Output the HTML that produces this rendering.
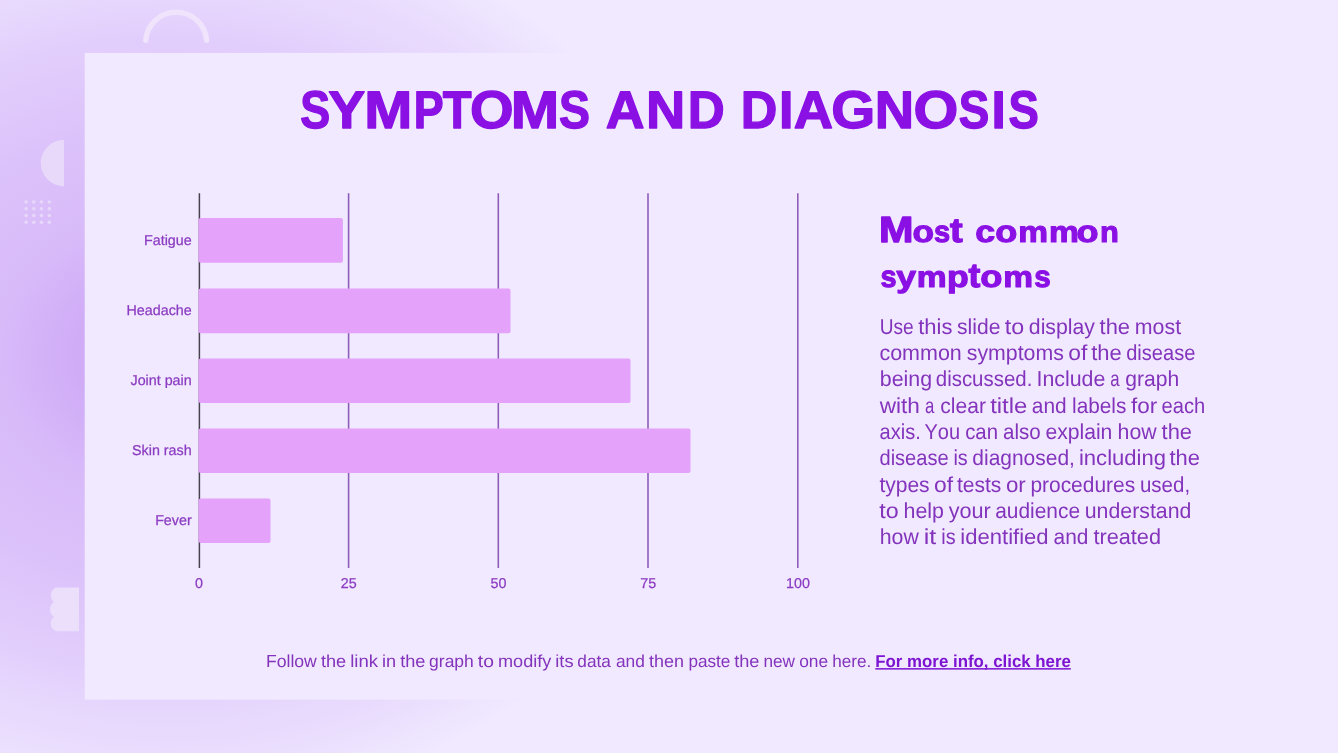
<!DOCTYPE html>
<html>
<head>
<meta charset="utf-8">
<title>Symptoms and Diagnosis</title>
<style>
html,body{margin:0;padding:0;}
body{width:1338px;height:753px;overflow:hidden;background:#f0e9ff;font-family:"Liberation Sans",sans-serif;}
svg{display:block;position:absolute;left:0;top:0;will-change:transform;}
text{font-family:"Liberation Sans",sans-serif;text-rendering:geometricPrecision;}
</style>
</head>
<body>
<svg width="1338" height="753" viewBox="0 0 1338 753">
  <defs>
    <radialGradient id="bg" gradientUnits="userSpaceOnUse" cx="0" cy="0" r="456" gradientTransform="translate(165 355) scale(1.2 1)">
      <stop offset="0.000" stop-color="#cea8f7"/>
      <stop offset="0.164" stop-color="#d0acf7"/>
      <stop offset="0.307" stop-color="#d8baf9"/>
      <stop offset="0.504" stop-color="#dcc2fa"/>
      <stop offset="0.697" stop-color="#e2cefc"/>
      <stop offset="0.776" stop-color="#e6d6fd"/>
      <stop offset="0.855" stop-color="#e9dbfd"/>
      <stop offset="0.925" stop-color="#ece2fe"/>
      <stop offset="1.000" stop-color="#f0e9ff"/>
    </radialGradient>
  </defs>
  <rect x="0" y="0" width="1338" height="753" fill="#f0e9ff"/>
  <rect x="0" y="0" width="700" height="753" fill="url(#bg)"/>
  <!-- decorations -->
  <path d="M145.79 40.3 A30.5 30.5 0 0 1 206.61 40.3" fill="none" stroke="#f0e4fd" stroke-width="5.4" stroke-linecap="round"/>
  <path d="M64 139.8 A23.3 23.3 0 0 0 64 186.4 Z" fill="#e8d9fa"/>
  <g fill="#e7d8fa">
    <circle cx="26.1" cy="202" r="1.75"/><circle cx="33.8" cy="202" r="1.75"/><circle cx="41.5" cy="202" r="1.75"/><circle cx="49.3" cy="202" r="1.75"/>
    <circle cx="26.1" cy="208.8" r="1.75"/><circle cx="33.8" cy="208.8" r="1.75"/><circle cx="41.5" cy="208.8" r="1.75"/><circle cx="49.3" cy="208.8" r="1.75"/>
    <circle cx="26.1" cy="215.5" r="1.75"/><circle cx="33.8" cy="215.5" r="1.75"/><circle cx="41.5" cy="215.5" r="1.75"/><circle cx="49.3" cy="215.5" r="1.75"/>
    <circle cx="26.1" cy="222.3" r="1.75"/><circle cx="33.8" cy="222.3" r="1.75"/><circle cx="41.5" cy="222.3" r="1.75"/><circle cx="49.3" cy="222.3" r="1.75"/>
  </g>
  <path d="M79 587.5 H56 A8.6 8.6 0 0 0 54 602.1 A8.6 8.6 0 0 0 54 616.7 A8.6 8.6 0 0 0 56 631.3 H79 Z" fill="#ecdffb"/>
  <!-- panel -->
  <rect x="84.7" y="52.9" width="1254" height="646.8" fill="#f0e9ff"/>

  <!-- title -->
  <g font-weight="700" font-size="52.0" fill="#8a10e4" stroke="#8a10e4" stroke-width="1.3" stroke-linejoin="round">
    <text transform="translate(300.27 127.80) scale(0.8628 1.0201)">S</text>
    <text transform="translate(328.35 127.80) scale(1.0655 1.0130)">Y</text>
    <text transform="translate(364.36 127.80) scale(1.1099 1.0130)">M</text>
    <text transform="translate(413.66 127.80) scale(0.8624 1.0130)">P</text>
    <text transform="translate(442.66 127.80) scale(0.9085 1.0130)">T</text>
    <text transform="translate(470.00 127.80) scale(1.0793 1.0201)">O</text>
    <text transform="translate(510.84 127.80) scale(1.1179 1.0130)">M</text>
    <text transform="translate(559.04 127.80) scale(0.8936 1.0201)">S</text>
    <text transform="translate(605.83 127.80) scale(1.0335 1.0130)">A</text>
    <text transform="translate(645.94 127.80) scale(1.0449 1.0130)">N</text>
    <text transform="translate(687.81 127.80) scale(0.9852 1.0130)">D</text>
    <text transform="translate(740.75 127.80) scale(0.9732 1.0130)">D</text>
    <text transform="translate(779.07 127.80) scale(1.0011 1.0130)">I</text>
    <text transform="translate(793.82 127.80) scale(1.0473 1.0130)">A</text>
    <text transform="translate(831.19 127.80) scale(1.0882 1.0201)">G</text>
    <text transform="translate(874.64 127.80) scale(1.0480 1.0130)">N</text>
    <text transform="translate(913.56 127.80) scale(1.1087 1.0201)">O</text>
    <text transform="translate(958.85 127.80) scale(0.8812 1.0201)">S</text>
    <text transform="translate(991.60 127.80) scale(0.9897 1.0130)">I</text>
    <text transform="translate(1008.56 127.80) scale(0.8751 1.0201)">S</text>
  </g>

  <!-- chart -->
  <g stroke="#8f5cba" stroke-width="1.6">
    <line x1="348.6" y1="193.3" x2="348.6" y2="567.9"/>
    <line x1="498.3" y1="193.3" x2="498.3" y2="567.9"/>
    <line x1="648.0" y1="193.3" x2="648.0" y2="567.9"/>
    <line x1="797.8" y1="193.3" x2="797.8" y2="567.9"/>
  </g>
  <line x1="199.4" y1="193.3" x2="199.4" y2="567.9" stroke="#48424f" stroke-width="1.5"/>
  <g fill="#e4a2fb">
    <rect x="198.6" y="218" width="144.3" height="44.7" rx="2"/>
    <rect x="198.6" y="288.5" width="311.9" height="44.7" rx="2"/>
    <rect x="198.6" y="358.4" width="431.9" height="44.7" rx="2"/>
    <rect x="198.6" y="428.4" width="491.9" height="44.7" rx="2"/>
    <rect x="198.6" y="498.4" width="71.9" height="44.7" rx="2"/>
  </g>
  <g font-size="14.3" fill="#8c3cc2" stroke="#8c3cc2" stroke-width="0.25" text-anchor="end">
    <text x="191.7" y="245.3">Fatigue</text>
    <text x="191.7" y="315.3">Headache</text>
    <text x="191.7" y="385.3">Joint pain</text>
    <text x="191.7" y="455.3">Skin rash</text>
    <text x="191.7" y="525.3">Fever</text>
  </g>
  <g font-size="14.3" fill="#8c3cc2" stroke="#8c3cc2" stroke-width="0.25" text-anchor="middle">
    <text x="199" y="588.2">0</text>
    <text x="348.8" y="588.2">25</text>
    <text x="498.5" y="588.2">50</text>
    <text x="648.2" y="588.2">75</text>
    <text x="798" y="588.2">100</text>
  </g>

  <!-- heading -->
  <g font-weight="700" font-size="36" fill="#8a10e4" stroke="#8a10e4" stroke-width="1.3" stroke-linejoin="round">
    <text transform="translate(878.98 242.10) scale(1.1484 1.0111)">M</text>
    <text transform="translate(912.56 242.10) scale(0.9767 0.8441)">o</text>
    <text transform="translate(933.90 242.10) scale(0.8074 0.8434)">s</text>
    <text transform="translate(949.92 242.10) scale(1.0557 0.9489)">t</text>
    <text transform="translate(975.15 242.10) scale(0.9915 0.8441)">c</text>
    <text transform="translate(995.34 242.10) scale(1.0011 0.8441)">o</text>
    <text transform="translate(1018.20 242.10) scale(0.9302 0.8184)">m</text>
    <text transform="translate(1048.99 242.10) scale(0.9337 0.8184)">m</text>
    <text transform="translate(1076.44 242.10) scale(1.0011 0.8441)">o</text>
    <text transform="translate(1100.02 242.10) scale(0.8563 0.8184)">n</text>
    <text transform="translate(880.51 286.80) scale(0.8020 0.8484)">s</text>
    <text transform="translate(896.26 286.80) scale(0.9882 0.8338)">y</text>
    <text transform="translate(916.69 286.80) scale(0.9337 0.8184)">m</text>
    <text transform="translate(947.10 286.80) scale(0.9876 0.8369)">p</text>
    <text transform="translate(968.61 286.80) scale(0.9831 0.9406)">t</text>
    <text transform="translate(980.34 286.80) scale(1.0060 0.8491)">o</text>
    <text transform="translate(1003.30 286.80) scale(0.9302 0.8184)">m</text>
    <text transform="translate(1034.29 286.80) scale(0.8235 0.8484)">s</text>
  </g>

  <!-- body -->
  <g font-size="21.6" fill="#8434bc" style="font-kerning:none">
    <text transform="translate(879.64 333.5) scale(0.8852 1)">Use</text>
    <text transform="translate(918.21 333.5) scale(1.0173 1)">this</text>
    <text transform="translate(957.00 333.5) scale(0.9769 1)">slide</text>
    <text transform="translate(1004.86 333.5) scale(1.0757 1)">to</text>
    <text transform="translate(1028.82 333.5) scale(0.9834 1)">display</text>
    <text transform="translate(1099.57 333.5) scale(1.0144 1)">the</text>
    <text transform="translate(1134.85 333.5) scale(0.9873 1)">most</text>
    <text transform="translate(879.40 359.8) scale(0.9949 1)">common</text>
    <text transform="translate(966.77 359.8) scale(0.9866 1)">symptoms</text>
    <text transform="translate(1068.33 359.8) scale(1.0558 1)">of</text>
    <text transform="translate(1091.21 359.8) scale(1.0144 1)">the</text>
    <text transform="translate(1126.22 359.8) scale(0.9286 1)">disease</text>
    <text transform="translate(879.78 386.2) scale(0.9906 1)">being</text>
    <text transform="translate(935.78 386.2) scale(0.9462 1)">discussed.</text>
    <text transform="translate(1036.46 386.2) scale(0.9896 1)">Include</text>
    <text transform="translate(1110.18 386.2) scale(0.7775 1)">a</text>
    <text transform="translate(1125.36 386.2) scale(0.9762 1)">graph</text>
    <text transform="translate(879.73 412.5) scale(1.0457 1)">with</text>
    <text transform="translate(924.97 412.5) scale(0.7775 1)">a</text>
    <text transform="translate(940.28 412.5) scale(0.9743 1)">clear</text>
    <text transform="translate(990.14 412.5) scale(1.1037 1)">title</text>
    <text transform="translate(1031.75 412.5) scale(0.9680 1)">and</text>
    <text transform="translate(1072.02 412.5) scale(0.9632 1)">labels</text>
    <text transform="translate(1130.93 412.5) scale(1.0410 1)">for</text>
    <text transform="translate(1161.51 412.5) scale(0.9321 1)">each</text>
    <text transform="translate(879.55 438.8) scale(0.9291 1)">axis.</text>
    <text transform="translate(924.52 438.8) scale(0.9260 1)">You</text>
    <text transform="translate(965.21 438.8) scale(0.9411 1)">can</text>
    <text transform="translate(1003.05 438.8) scale(0.9503 1)">also</text>
    <text transform="translate(1045.41 438.8) scale(0.9784 1)">explain</text>
    <text transform="translate(1117.54 438.8) scale(0.9867 1)">how</text>
    <text transform="translate(1161.57 438.8) scale(1.0144 1)">the</text>
    <text transform="translate(879.48 465.1) scale(0.9286 1)">disease</text>
    <text transform="translate(953.42 465.1) scale(0.9180 1)">is</text>
    <text transform="translate(972.34 465.1) scale(0.9703 1)">diagnosed,</text>
    <text transform="translate(1078.96 465.1) scale(1.0209 1)">including</text>
    <text transform="translate(1169.51 465.1) scale(1.0144 1)">the</text>
    <text transform="translate(879.38 491.5) scale(0.9733 1)">types</text>
    <text transform="translate(934.11 491.5) scale(1.0558 1)">of</text>
    <text transform="translate(957.00 491.5) scale(0.9731 1)">tests</text>
    <text transform="translate(1005.89 491.5) scale(1.0320 1)">or</text>
    <text transform="translate(1030.40 491.5) scale(0.9691 1)">procedures</text>
    <text transform="translate(1139.94 491.5) scale(0.9497 1)">used,</text>
    <text transform="translate(879.35 517.8) scale(1.0757 1)">to</text>
    <text transform="translate(903.57 517.8) scale(0.9899 1)">help</text>
    <text transform="translate(948.66 517.8) scale(1.0027 1)">your</text>
    <text transform="translate(995.21 517.8) scale(0.9673 1)">audience</text>
    <text transform="translate(1084.78 517.8) scale(0.9862 1)">understand</text>
    <text transform="translate(879.68 544.1) scale(0.9867 1)">how</text>
    <text transform="translate(923.66 544.1) scale(1.1593 1)">it</text>
    <text transform="translate(941.35 544.1) scale(0.9180 1)">is</text>
    <text transform="translate(960.33 544.1) scale(1.0213 1)">identified</text>
    <text transform="translate(1053.62 544.1) scale(0.9680 1)">and</text>
    <text transform="translate(1093.42 544.1) scale(1.0046 1)">treated</text>
  </g>

  <!-- footer -->
  <g font-size="17.4" fill="#8434bc" style="font-kerning:none">
    <text transform="translate(265.91 666.9) scale(1.0135 1)">Follow</text>
    <text transform="translate(320.96 666.9) scale(1.0452 1)">the</text>
    <text transform="translate(350.24 666.9) scale(1.0673 1)">link</text>
    <text transform="translate(382.06 666.9) scale(1.0430 1)">in</text>
    <text transform="translate(400.17 666.9) scale(1.0452 1)">the</text>
    <text transform="translate(429.09 666.9) scale(1.0058 1)">graph</text>
    <text transform="translate(477.85 666.9) scale(1.1083 1)">to</text>
    <text transform="translate(497.98 666.9) scale(1.0413 1)">modify</text>
    <text transform="translate(555.30 666.9) scale(1.0505 1)">its</text>
    <text transform="translate(577.33 666.9) scale(0.9924 1)">data</text>
    <text transform="translate(615.97 666.9) scale(0.9974 1)">and</text>
    <text transform="translate(649.00 666.9) scale(1.0341 1)">then</text>
    <text transform="translate(688.40 666.9) scale(0.9868 1)">paste</text>
    <text transform="translate(734.14 666.9) scale(1.0452 1)">the</text>
    <text transform="translate(763.45 666.9) scale(0.9893 1)">new</text>
    <text transform="translate(799.19 666.9) scale(0.9985 1)">one</text>
    <text transform="translate(832.20 666.9) scale(0.9851 1)">here.</text>
  </g>
  <text x="875.3" y="666.7" font-size="17.2" font-weight="700" fill="#7c14d2" textLength="195.6" lengthAdjust="spacingAndGlyphs">For more info, click here</text>
  <rect x="875.3" y="668.1" width="195.5" height="1.5" fill="#7c14d2"/>
</svg>
</body>
</html>
